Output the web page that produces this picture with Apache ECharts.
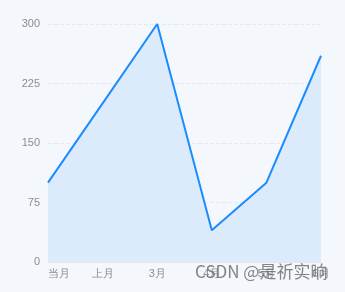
<!DOCTYPE html>
<html>
<head>
<meta charset="utf-8">
<script src="https://cdn.jsdelivr.net/npm/echarts@6/dist/echarts.min.js"></script>
<style>
html,body{margin:0;padding:0;background:#f4f8fc;}
#c{width:345px;height:292px;}
</style>
</head>
<body>
<div id="c"></div>
<script>
var categories = ['当月', '上月', '3月', '4月', '5月', '6月'];
var values = [100, 200, 300, 40, 100, 260];
var yTicks = [0, 75, 150, 225, 300];

var chart = echarts.init(document.getElementById('c'));
chart.setOption({
  backgroundColor: '#f4f8fc',
  animation: false,
  grid: { left: 48, right: 24, top: 24, bottom: 30 },
  xAxis: {
    type: 'category',
    data: categories,
    boundaryGap: false,
    axisLine: { lineStyle: { color: '#e3e8ee' } },
    axisTick: { show: false },
    axisLabel: { color: '#8c8c8c', fontSize: 11, margin: 6, alignMinLabel: 'left' }
  },
  yAxis: {
    type: 'value',
    min: 0, max: 300, interval: 75,
    axisLine: { show: false },
    axisTick: { show: false },
    axisLabel: { color: '#8c8c8c', fontSize: 11, margin: 8 },
    splitLine: { lineStyle: { type: 'dashed', color: '#e6eaf0' } }
  },
  series: [{
    type: 'line',
    data: values,
    symbol: 'none',
    lineStyle: { color: '#1a8cff', width: 2 },
    itemStyle: { color: '#1a8cff' },
    areaStyle: { color: '#dcebfb', opacity: 1 }
  }],
  graphic: [{
    type: 'text',
    left: 195,
    top: 263,
    style: { text: 'CSDN @是祈实晌', fill: 'rgba(110,110,110,0.85)', font: '17px "Noto Sans CJK SC", sans-serif' },
    z: 100
  }]
});
</script>
</body>
</html>
